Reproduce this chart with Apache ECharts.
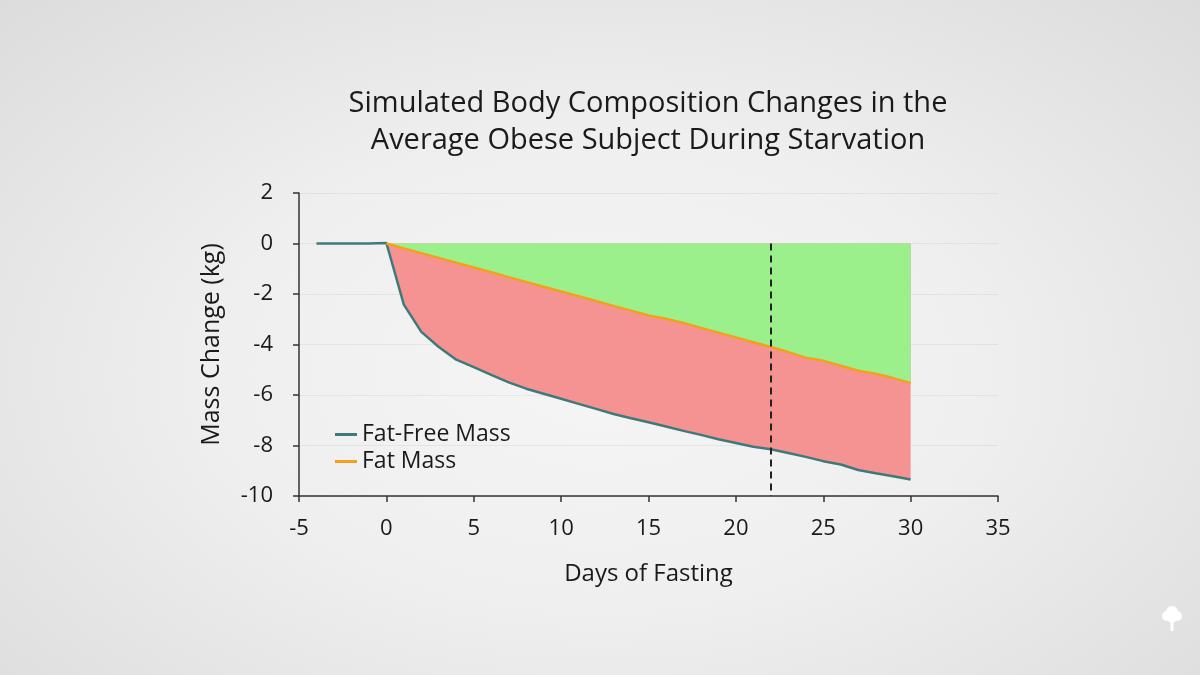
<!DOCTYPE html>
<html>
<head>
<meta charset="utf-8">
<script src="https://cdn.jsdelivr.net/npm/echarts@6/dist/echarts.min.js"></script>
<style>
html,body{margin:0;padding:0;width:1200px;height:675px;overflow:hidden;
background:radial-gradient(ellipse at 50% 55%, #f5f5f5 0%, #efefef 45%, #dcdcdc 100%);}
#c{width:1200px;height:675px;}
</style>
</head>
<body>
<div id="c"></div>
<script>
const titleLines = ['Simulated Body Composition Changes in the', 'Average Obese Subject During Starvation'];
const xAxisName = 'Days of Fasting';
const yAxisName = 'Mass Change (kg)';
const seriesNames = ['Fat-Free Mass', 'Fat Mass'];
const fatFreeDays = [-4,-3,-2,-1,0,1,2,3,4,5,6,7,8,9,10,11,12,13,14,15,16,17,18,19,20,21,22,23,24,25,26,27,28,29,30];
const fatFreeMass = [0,0,0,0,0.02,-2.42,-3.5,-4.1,-4.6,-4.9,-5.2,-5.5,-5.75,-5.95,-6.15,-6.35,-6.55,-6.75,-6.92,-7.08,-7.25,-7.42,-7.58,-7.75,-7.9,-8.05,-8.15,-8.3,-8.45,-8.62,-8.75,-8.97,-9.1,-9.22,-9.35];
const fatDays = [0,1,2,3,4,5,6,7,8,9,10,11,12,13,14,15,16,17,18,19,20,21,22,23,24,25,26,27,28,29,30];
const fatMass = [0,-0.2,-0.38,-0.57,-0.76,-0.95,-1.14,-1.33,-1.52,-1.71,-1.9,-2.09,-2.28,-2.47,-2.66,-2.85,-2.98,-3.15,-3.34,-3.53,-3.72,-3.91,-4.1,-4.3,-4.52,-4.64,-4.84,-5.04,-5.16,-5.33,-5.52];
const markerDay = 22;

const FONT = '"Open Sans", sans-serif';
const chart = echarts.init(document.getElementById('c'), null, {renderer:'canvas'});
chart.setOption({
  backgroundColor: 'transparent',
  animation: false,
  graphic: [
    {type:'text', x:648, y:89, style:{text:titleLines[0], textAlign:'center', fill:'#1a1a1a', font:'400 29px '+FONT}},
    {type:'text', x:648, y:126, style:{text:titleLines[1], textAlign:'center', fill:'#1a1a1a', font:'400 29px '+FONT}},
    {type:'group', x:1172, y:618, children:[
      {type:'circle', shape:{cx:0, cy:-6, r:6}, style:{fill:'#ffffff'}},
      {type:'circle', shape:{cx:-5, cy:-2, r:5}, style:{fill:'#ffffff'}},
      {type:'circle', shape:{cx:5, cy:-2, r:5}, style:{fill:'#ffffff'}},
      {type:'circle', shape:{cx:0, cy:0, r:5}, style:{fill:'#ffffff'}},
      {type:'rect', shape:{x:-1.5, y:2, width:3, height:11}, style:{fill:'#ffffff'}}
    ]}
  ],
  grid: {left:299, right:202, top:193, bottom:179},
  legend: {
    orient:'vertical', left:330, top:418, itemGap:4,
    icon:'rect', itemWidth:22, itemHeight:3,
    textStyle:{fontSize:23, color:'#1a1a1a', fontFamily:FONT, padding:[0,0,0,0]},
    data: seriesNames
  },
  xAxis: {
    type:'value', min:-5, max:35, interval:5,
    name:xAxisName, nameLocation:'middle', nameGap:66,
    nameTextStyle:{fontSize:24, color:'#1a1a1a', fontFamily:FONT},
    axisLine:{onZero:false, lineStyle:{color:'#333', width:1.5}},
    axisTick:{show:true, length:6, lineStyle:{color:'#333', width:1.5}},
    axisLabel:{fontSize:22, color:'#1a1a1a', fontFamily:FONT, margin:22},
    splitLine:{show:false}
  },
  yAxis: {
    type:'value', min:-10, max:2, interval:2,
    name:yAxisName, nameLocation:'middle', nameGap:75,
    nameTextStyle:{fontSize:25, color:'#1a1a1a', fontFamily:FONT},
    axisLine:{show:true, onZero:false, lineStyle:{color:'#333', width:1.5}},
    axisTick:{show:true, length:6, lineStyle:{color:'#333', width:1.5}},
    axisLabel:{fontSize:22, color:'#1a1a1a', fontFamily:FONT, margin:26},
    splitLine:{show:true, lineStyle:{color:'rgba(0,0,0,0.05)', width:1}}
  },
  series: [
    {
      name: seriesNames[0], type:'line', showSymbol:false, symbol:'none',
      data: fatFreeDays.map((d,i)=>[d, fatFreeMass[i]]),
      lineStyle:{color:'#3f7a7b', width:2.5},
      itemStyle:{color:'#3f7a7b'},
      areaStyle:{color:'#f59292', opacity:1, origin:0},
      z:2
    },
    {
      name: seriesNames[1], type:'line', showSymbol:false, symbol:'none',
      data: fatDays.map((d,i)=>[d, fatMass[i]]),
      lineStyle:{color:'#f5a01c', width:2.5},
      itemStyle:{color:'#f5a01c'},
      areaStyle:{color:'#9bf08c', opacity:1, origin:0},
      z:3,
      markLine:{
        silent:true, symbol:['none','none'], label:{show:false},
        lineStyle:{color:'#222', type:[7,5], width:2},
        data:[[{coord:[markerDay,0]},{coord:[markerDay,-10]}]]
      }
    }
  ]
});
</script>
</body>
</html>
